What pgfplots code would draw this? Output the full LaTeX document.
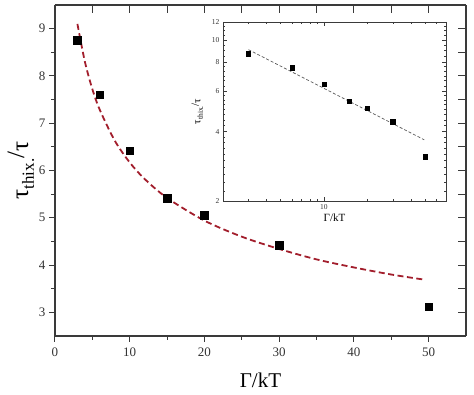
\documentclass[border=0pt]{standalone}
\usepackage{fontspec}
\setmainfont{Liberation Serif}
\usepackage{pgfplots}
\pgfplotsset{compat=1.18}
\definecolor{fitred}{HTML}{A21E2C}
\definecolor{axgray}{HTML}{3A3A3A}
\begin{document}
\begin{tikzpicture}
% main axis
\begin{axis}[name=main, at={(0,0)}, anchor=south west,
  scale only axis, width=411pt, height=331pt,
  xmin=0, xmax=55, ymin=2.5, ymax=9.5,
  xtick={0,10,20,30,40,50}, ytick={3,4,5,6,7,8,9},
  minor x tick num=1, minor y tick num=1,
  axis x line*=bottom, axis y line*=left,
  axis line style={line width=1.3pt, color=axgray, -},
  tick align=outside,
  major tick length=6pt, minor tick length=4pt,
  tick style={line width=1pt, color=axgray},
  /pgf/number format/assume math mode=true,
  ticklabel style={font=\fontsize{13}{13}\selectfont, color=black!80},
  xticklabel style={yshift=-2pt},
  xlabel={\fontsize{21}{21}\selectfont Γ/kT},
  xlabel style={yshift=-10pt},
  ylabel={\fontsize{25}{25}\selectfont τ\raisebox{-0.5ex}{\fontsize{17}{17}\selectfont thix.}\raisebox{0.35ex}{/}τ},
  ylabel style={yshift=-2pt},
  clip=false]
\addplot[fitred, line width=1.8pt, dash pattern=on 6pt off 3.5pt, smooth] coordinates {
(3,9.10) (4,8.30) (5,7.72) (6,7.28) (8,6.63) (10,6.17) (12,5.82) (15,5.42)
(20,4.94) (25,4.60) (30,4.34) (35,4.12) (40,3.95) (45,3.80) (49.5,3.69)};
\addplot[only marks, mark=square*, mark size=3.8pt, black] coordinates {
(3,8.75) (6,7.60) (10,6.42) (15,5.42) (20,5.05) (30,4.42) (50,3.12)};
\end{axis}
% top/right frame with inward ticks
\begin{axis}[at={(0,0)}, anchor=south west,
  scale only axis, width=411pt, height=331pt,
  xmin=0, xmax=55, ymin=2.5, ymax=9.5,
  xtick={0,10,20,30,40,50}, ytick={3,4,5,6,7,8,9},
  minor x tick num=1, minor y tick num=1,
  axis x line*=top, axis y line*=right,
  axis line style={line width=1.3pt, color=axgray, -},
  tick align=inside,
  major tick length=8pt, minor tick length=8pt,
  tick style={line width=1pt, color=axgray},
  xticklabels={}, yticklabels={}]
\end{axis}
% inset
\begin{axis}[at={(168pt,135pt)}, anchor=south west,
  scale only axis, width=223pt, height=179pt,
  xmode=log, ymode=log,
  xmin=2, xmax=70, ymin=2, ymax=12,
  xtick={10}, xticklabels={10},
  ytick={2,4,6,8,10,12}, yticklabels={2,4,6,8,10,12},
  minor xtick={2,3,4,5,6,7,8,9,20,30,40,50,60,70},
  minor ytick={2.2,2.4,2.6,2.8,3,3.2,3.4,3.6,3.8,4.25,4.5,4.75,5,5.25,5.5,5.75,6.33,6.67,7,7.33,7.67,8.5,9,9.5,10.5,11,11.5},
  tick align=inside,
  major tick length=4pt, minor tick length=2pt,
  axis line style={line width=0.8pt, color=axgray},
  tick style={line width=0.6pt, color=axgray},
  /pgf/number format/assume math mode=true,
  ticklabel style={font=\fontsize{7.5}{7.5}\selectfont, color=black!80},
  xlabel={\fontsize{11}{11}\selectfont Γ/kT},
  xlabel style={yshift=3pt},
  ylabel={\fontsize{11}{11}\selectfont τ\raisebox{-0.5ex}{\fontsize{7.5}{7.5}\selectfont thix.}\raisebox{0.3ex}{/}τ},
  ylabel style={yshift=2pt}]
\addplot[gray!70!black, line width=0.7pt, dash pattern=on 3pt off 2pt] coordinates {
(3,9.10) (49.5,3.69)};
\addplot[only marks, mark=square*, mark size=2.2pt, black] coordinates {
(3,8.75) (6,7.60) (10,6.42) (15,5.42) (20,5.05) (30,4.42) (50,3.12)};
\end{axis}
\pgfresetboundingbox
\path[use as bounding box] (-55pt,-59pt) rectangle (419pt,336pt);
\end{tikzpicture}
\end{document}
